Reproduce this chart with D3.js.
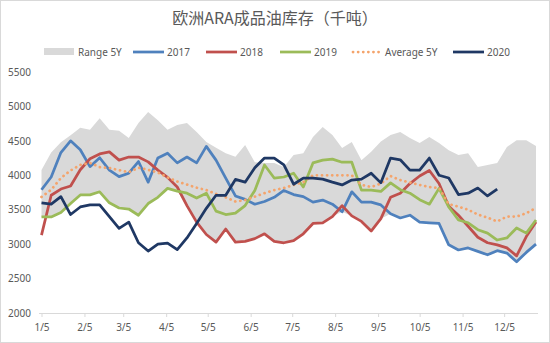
<!DOCTYPE html>
<html><head><meta charset="utf-8">
<script src="https://cdn.jsdelivr.net/npm/d3@7"></script>
<style>body{margin:0;background:#fff}</style>
</head><body><svg id="c" width="550" height="343"></svg>
<script>
const title = "欧洲ARA成品油库存（千吨）";
const startDate = new Date(2019, 0, 5);
const rangeHigh = [4075,4330,4480,4580,4690,4660,4830,4660,4645,4540,4760,4920,4800,4660,4730,4760,4630,4485,4400,4320,4270,4440,4190,4180,4180,4120,4295,4320,4555,4700,4585,4395,4485,4220,4340,4490,4585,4630,4540,4470,4555,4470,4365,4295,4320,4120,4150,4180,4410,4510,4510,4425];
const rangeLow = [3395,3395,3460,3590,3715,3715,3760,3600,3525,3510,3420,3590,3680,3810,3770,3560,3320,3140,3030,3220,3030,3040,3080,3150,3040,3020,3050,3150,3300,3310,3400,3470,3410,3330,3190,3370,3440,3380,3420,3320,3310,3300,2990,2915,2945,2895,2845,2905,2870,2745,2880,3000];
const s2017 = [3790,3975,4330,4500,4370,4125,4255,4075,3980,4030,4200,3900,4250,4320,4180,4265,4180,4420,4220,3960,3700,3650,3580,3620,3680,3780,3720,3690,3610,3640,3580,3470,3760,3610,3610,3570,3440,3380,3420,3320,3310,3300,2990,2915,2945,2895,2845,2905,2870,2745,2880,3000];
const s2018 = [3130,3710,3800,3845,4080,4240,4310,4340,4220,4265,4265,4195,4075,3970,3830,3560,3320,3140,3030,3220,3030,3040,3080,3150,3040,3020,3050,3150,3300,3310,3400,3560,3410,3330,3190,3370,3680,3740,3880,3990,4070,3880,3550,3420,3260,3100,3020,2990,2945,2830,3110,3320];
const s2019 = [3395,3395,3460,3590,3715,3715,3760,3600,3525,3510,3420,3590,3680,3810,3770,3740,3670,3740,3480,3430,3450,3560,3780,4150,3960,3975,4030,3830,4180,4220,4235,4190,4190,3785,3785,3765,3890,3790,3740,3645,3580,3810,3540,3350,3310,3210,3160,3060,3090,3235,3160,3350];
const avg5y = [3685,3790,3960,4070,4150,4180,4120,4105,4075,4045,4110,4080,4040,3970,3910,3865,3820,3785,3730,3680,3620,3640,3690,3740,3785,3815,3860,3900,4000,4000,4000,4000,4000,3860,3830,3880,3990,3930,3895,3860,3830,3815,3580,3545,3500,3430,3385,3330,3400,3400,3450,3525];
const s2020 = [3600,3580,3690,3430,3540,3570,3570,3400,3230,3320,3020,2900,3000,3015,2920,3090,3300,3520,3710,3710,3940,3900,4110,4250,4250,4150,3870,3960,3960,3945,3900,3860,3930,3945,4030,3890,4250,4225,4075,4075,4250,4000,3960,3720,3740,3815,3700,3800];
const yTicks = [2000,2500,3000,3500,4000,4500,5000,5500];
const xTickLabels = ["1/5","2/5","3/5","4/5","5/5","6/5","7/5","8/5","9/5","10/5","11/5","12/5"];
const legendNames = ["Range 5Y","2017","2018","2019","Average 5Y","2020"];

const dates = rangeHigh.map((_, i) => d3.timeDay.offset(startDate, 7 * i));
const tickDates = xTickLabels.map(l => { const [m, d] = l.split("/").map(Number); return new Date(2019, m - 1, d); });

const svg = d3.select("#c");
const font = "'Noto Sans', 'Noto Sans CJK SC', sans-serif";
const txt = "#595959";

svg.append("rect").attr("x", 0.5).attr("y", 0.5).attr("width", 549).attr("height", 342)
  .attr("fill", "#fff").attr("stroke", "#d9d9d9");

const x = d3.scaleTime().domain([startDate, dates[dates.length - 1]]).range([41.5, 536]);
const y = d3.scaleLinear().domain([2000, 5500]).range([313, 72]);

svg.append("text").attr("x", 275).attr("y", 24).attr("text-anchor", "middle")
  .attr("font-family", "'Noto Sans CJK SC', sans-serif").attr("font-size", 16).attr("fill", txt)
  .text(title);

// area
const area = d3.area().x((d, i) => x(dates[i])).y0((d, i) => y(rangeLow[i])).y1(d => y(d));
svg.append("path").datum(rangeHigh).attr("d", area).attr("fill", "#d9d9d9");

// axes
const yAxis = svg.append("g").attr("transform", "translate(31,0)")
  .call(d3.axisLeft(y).tickValues(yTicks).tickSize(0).tickPadding(0).tickFormat(d3.format("d")));
yAxis.select(".domain").remove();
yAxis.selectAll("text").attr("font-family", font).attr("font-size", 10).attr("fill", txt);

const xAxis = svg.append("g").attr("transform", "translate(0,313)")
  .call(d3.axisBottom(x).tickValues(tickDates).tickSize(4).tickPadding(7)
    .tickFormat((d, i) => xTickLabels[i]));
xAxis.select(".domain").attr("d", "M39,0.5H538").attr("stroke", "#d9d9d9");
xAxis.selectAll(".tick line").attr("stroke", "#d9d9d9");
xAxis.selectAll("text").attr("font-family", font).attr("font-size", 10).attr("fill", txt);

const line = d3.line().x((d, i) => x(dates[i])).y(d => y(d));
const series = [
  { data: s2017, color: "#4f81bd" },
  { data: s2018, color: "#c0504d" },
  { data: s2019, color: "#9bbb59" },
  { data: avg5y, color: "#f4a46c", dash: true },
  { data: s2020, color: "#1f3864" }
];
series.forEach(s => {
  const p = svg.append("path").datum(s.data).attr("d", line).attr("fill", "none")
    .attr("stroke", s.color).attr("stroke-width", 2.75).attr("stroke-linejoin", "round");
  if (s.dash) p.attr("stroke-dasharray", "0.1 5").attr("stroke-linecap", "round");
});

// legend
const legX = [44, 133, 206, 280, 351, 453];
const legColors = ["#d9d9d9", "#4f81bd", "#c0504d", "#9bbb59", "#f4a46c", "#1f3864"];
const ly = 52;
legendNames.forEach((n, i) => {
  const g = svg.append("g");
  if (i === 0) {
    g.append("rect").attr("x", legX[i]).attr("y", ly - 4).attr("width", 30).attr("height", 7).attr("fill", legColors[i]);
  } else {
    const l = g.append("line").attr("x1", legX[i]).attr("x2", legX[i] + 31).attr("y1", ly).attr("y2", ly)
      .attr("stroke", legColors[i]).attr("stroke-width", 2.75);
    if (i === 4) l.attr("stroke-dasharray", "0.1 5").attr("stroke-linecap", "round").attr("x1", legX[i] + 2);
  }
  g.append("text").attr("x", legX[i] + 34).attr("y", ly + 3.5).attr("font-family", font)
    .attr("font-size", 10).attr("fill", txt).text(n);
});
</script></body></html>
